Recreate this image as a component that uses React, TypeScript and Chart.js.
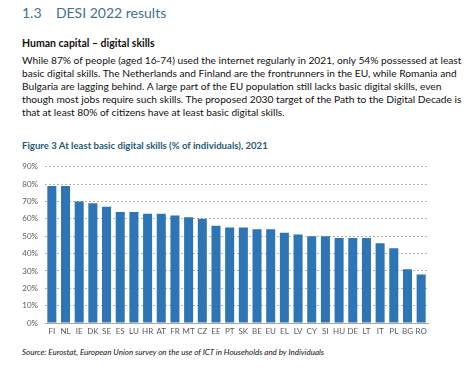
import React, { useEffect, useRef } from "react";
import { Chart, registerables } from "chart.js";

Chart.register(...registerables);

const countries = ["FI","NL","IE","DK","SE","ES","LU","HR","AT","FR","MT","CZ","EE","PT","SK","BE","EU","EL","LV","CY","SI","HU","DE","LT","IT","PL","BG","RO"];
const skills = [79,79,70,69,67,64,64,63,63,62,61,60,56,55,55,54,54,52,51,50,50,49,49,49,46,43,31,28];
const yTicks = [0,10,20,30,40,50,60,70,80,90];

const paragraphLines = [
  "While 87% of people (aged 16-74) used the internet regularly in 2021, only 54% possessed at least",
  "basic digital skills. The Netherlands and Finland are the frontrunners in the EU, while Romania and",
  "Bulgaria are lagging behind. A large part of the EU population still lacks basic digital skills, even",
  "though most jobs require such skills. The proposed 2030 target of the Path to the Digital Decade is",
  "that at least 80% of citizens have at least basic digital skills.",
];

const FONT = "Lato, 'Open Sans', sans-serif";

function BarChart() {
  const ref = useRef<HTMLCanvasElement | null>(null);
  useEffect(() => {
    if (!ref.current) return;
    const chart = new Chart(ref.current, {
      type: "bar",
      data: {
        labels: countries,
        datasets: [
          {
            data: skills,
            backgroundColor: "#2e75b6",
            borderWidth: 0,
            categoryPercentage: 1,
            barPercentage: 0.66,
          },
        ],
      },
      options: {
        animation: false,
        responsive: false,
        maintainAspectRatio: false,
        layout: { padding: { top: 7, right: 12, left: 0, bottom: 0 } },
        plugins: { legend: { display: false }, tooltip: { enabled: false } },
        scales: {
          x: {
            grid: { display: false, drawTicks: false },
            border: { display: true, color: "#a6a6a6", width: 1 },
            ticks: { color: "#595959", font: { family: FONT, size: 8 }, padding: 4, maxRotation: 0, autoSkip: false },
            afterFit: (s: any) => { s.height = 16; },
          },
          y: {
            min: 0,
            max: 90,
            afterBuildTicks: (s: any) => { s.ticks = yTicks.map((v) => ({ value: v })); },
            grid: { color: "#b0b0b0", lineWidth: 1, drawTicks: false },
            border: { display: false, dash: [2, 2] },
            ticks: {
              color: "#595959",
              font: { family: FONT, size: 8 },
              padding: 7,
              callback: (v: any) => v + "%",
            },
            afterFit: (s: any) => { s.width = 35; },
          },
        },
      },
    });
    return () => chart.destroy();
  }, []);
  return <canvas ref={ref} width={430} height={184} style={{ position: "absolute", left: 10, top: 155 }} />;
}

export default function App() {
  return (
    <div style={{ position: "absolute", left: 0, top: 0, width: 474, height: 371, background: "#fff", overflow: "hidden", fontFamily: FONT }}>
      <div style={{ position: "absolute", left: 22, top: 4, fontSize: 14, color: "#3f7290", whiteSpace: "pre" }}>
        {"1.3    DESI 2022 results"}
      </div>
      <div style={{ position: "absolute", left: 22, top: 37, fontSize: 10.5, fontWeight: 700, color: "#111" }}>
        Human capital – digital skills
      </div>
      <div style={{ position: "absolute", left: 22, top: 54, width: 406, fontSize: 10.2, color: "#111", lineHeight: "13px" }}>
        {paragraphLines.map((l, i) => (
          <div key={i} style={{ textAlign: "justify", textAlignLast: i < paragraphLines.length - 1 ? "justify" : "left", whiteSpace: "nowrap" as any }}>
            {l}
          </div>
        ))}
      </div>
      <div style={{ position: "absolute", left: 22, top: 140, fontSize: 9.6, fontWeight: 700, color: "#1e5a72" }}>
        Figure 3 At least basic digital skills (% of individuals), 2021
      </div>
      <BarChart />
      <div style={{ position: "absolute", left: 22, top: 347, fontSize: 8, fontStyle: "italic", color: "#111" }}>
        Source: Eurostat, European Union survey on the use of ICT in Households and by Individuals
      </div>
    </div>
  );
}
